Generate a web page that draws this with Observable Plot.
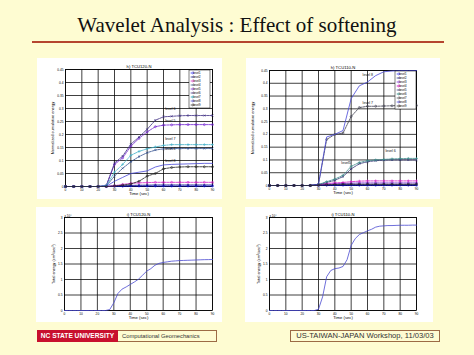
<!DOCTYPE html>
<html><head><meta charset="utf-8">
<script src="https://cdn.jsdelivr.net/npm/d3@7"></script>
<script src="https://cdn.jsdelivr.net/npm/@observablehq/plot@0.6"></script>
<style>
html,body{margin:0;padding:0;background:#FEFCD2;width:474px;height:355px;overflow:hidden;}
#slide{position:relative;width:474px;height:355px;font-family:"Liberation Sans",Arial,sans-serif;}
.title{position:absolute;left:0;width:474px;top:15px;text-align:center;font-family:"Liberation Serif","Times New Roman",serif;font-size:21px;line-height:21px;color:#111;white-space:nowrap;}
.rule{position:absolute;left:32px;width:412px;top:41px;height:2px;background:#B5452F;}
.panel{position:absolute;background:#fff;}
.panel svg{display:block;}
.foot{position:absolute;top:330px;height:12px;box-sizing:border-box;white-space:nowrap;}
</style></head>
<body><div id="slide">
<div class="title">Wavelet Analysis : Effect of softening</div>
<div class="rule"></div>
<div id="p1" class="panel"></div>
<div id="p2" class="panel"></div>
<div id="p3" class="panel"></div>
<div id="p4" class="panel"></div>
<div class="foot" style="left:37px;width:81px;background:#C8102E;color:#fff;font-weight:bold;font-size:6.6px;line-height:12px;text-align:center;">NC STATE UNIVERSITY</div>
<div class="foot" style="left:118px;width:99px;border:1px solid #9C6B45;border-left:none;color:#333;font-size:5.8px;line-height:10px;padding-left:4px;">Computational Geomechanics</div>
<div class="foot" style="left:290px;width:150px;border:1px solid #9C6B45;color:#333;font-size:7.6px;line-height:10px;text-align:center;">US-TAIWAN-JAPAN Workshop, 11/03/03</div>
</div>
<script>
// ---------- data ----------
const time = [0,5,10,15,20,25,30,35,40,45,50,55,60,65,70,75,80,85,90];
const levels = ["level1","level2","level3","level4","level5","level6","level7","level8","level9"];
const xTicks = [0,10,20,30,40,50,60,70,80,90];
const yTicksLevel = [0,0.05,0.1,0.15,0.2,0.25,0.3,0.35,0.4,0.45];
const yTicksEnergy = [0,0.5,1,1.5,2,2.5,3];

// TCU120-N normalized cumulative energy
const tcu120_level1 = [0,0,0,0,0,0,0.001,0.001,0.002,0.002,0.002,0.002,0.002,0.002,0.002,0.002,0.002,0.002,0.002];
const tcu120_level2 = [0,0,0,0,0,0,0.002,0.003,0.004,0.005,0.005,0.006,0.006,0.006,0.006,0.006,0.006,0.006,0.006];
const tcu120_level3 = [0,0,0,0,0,0,0.003,0.008,0.012,0.014,0.015,0.016,0.016,0.016,0.016,0.016,0.016,0.016,0.016];
const tcu120_level4 = [0,0,0,0,0,0.002,0.04,0.07,0.095,0.115,0.13,0.14,0.145,0.146,0.146,0.146,0.146,0.146,0.146];
const tcu120_level5 = [0,0,0,0,0,0.003,0.085,0.11,0.155,0.185,0.21,0.23,0.236,0.237,0.238,0.238,0.238,0.238,0.238];
const tcu120_level6 = [0,0,0,0,0,0.004,0.09,0.117,0.163,0.19,0.22,0.255,0.268,0.27,0.272,0.273,0.273,0.273,0.273];
const tcu120_level7 = [0,0,0,0,0,0.003,0.055,0.085,0.12,0.135,0.145,0.152,0.158,0.161,0.161,0.161,0.161,0.161,0.161];
const tcu120_level8 = [0,0,0,0,0,0.001,0.02,0.035,0.05,0.055,0.06,0.075,0.083,0.085,0.086,0.087,0.088,0.089,0.089];
const tcu120_level9 = [0,0,0,0,0,0,0.002,0.005,0.01,0.02,0.04,0.05,0.068,0.073,0.075,0.076,0.076,0.076,0.076];

// TCU110-N normalized cumulative energy
const tcu110_level1 = [0,0,0,0,0,0,0.001,0.001,0.001,0.001,0.001,0.001,0.001,0.001,0.001,0.001,0.001,0.001,0.001];
const tcu110_level2 = [0,0,0,0,0,0,0.001,0.002,0.002,0.003,0.003,0.003,0.003,0.003,0.003,0.003,0.003,0.003,0.003];
const tcu110_level3 = [0,0,0,0,0,0,0.002,0.005,0.007,0.008,0.009,0.01,0.01,0.01,0.01,0.01,0.01,0.01,0.01];
const tcu110_level4 = [0,0,0,0,0,0,0.003,0.008,0.01,0.012,0.015,0.017,0.018,0.018,0.018,0.018,0.018,0.018,0.018];
const tcu110_level5 = [0,0,0,0,0,0,0.003,0.012,0.02,0.035,0.065,0.085,0.093,0.097,0.099,0.1,0.1,0.1,0.1];
const tcu110_level6 = [0,0,0,0,0,0,0.004,0.015,0.025,0.04,0.075,0.09,0.097,0.1,0.102,0.104,0.105,0.106,0.106];
const tcu110_level7 = [0,0,0,0,0,0,0.005,0.18,0.2,0.205,0.27,0.305,0.31,0.31,0.311,0.312,0.313,0.313,0.313];
const tcu110_level8 = [0,0,0,0,0,0,0.005,0.19,0.2,0.215,0.34,0.39,0.405,0.43,0.445,0.448,0.45,0.45,0.45];
const tcu110_level9 = [0,0,0,0,0,0,0.001,0.003,0.004,0.005,0.005,0.005,0.005,0.005,0.005,0.005,0.005,0.005,0.005];

// total energy (x 10^4)
const timeFine = [0,2.5,5,7.5,10,12.5,15,17.5,20,22.5,25,27.5,30,32.5,35,37.5,40,42.5,45,47.5,50,52.5,55,57.5,60,62.5,65,67.5,70,72.5,75,77.5,80,82.5,85,87.5,90];
const tcu120_total = [0,0,0,0,0,0,0,0,0,0,0,0.03,0.25,0.55,0.69,0.76,0.84,0.92,1.01,1.14,1.27,1.35,1.46,1.52,1.55,1.57,1.59,1.60,1.61,1.615,1.62,1.625,1.63,1.635,1.64,1.642,1.645];
const tcu110_total = [0,0,0,0,0,0,0,0,0,0,0,0,0.04,0.44,1.09,1.29,1.35,1.37,1.42,1.64,2.1,2.32,2.45,2.51,2.57,2.62,2.69,2.72,2.73,2.74,2.74,2.745,2.75,2.75,2.75,2.755,2.755];

const titles = ["h) TCU120-N","h) TCU110-N","i) TCU120-N","i) TCU110-N"];
const yLabelLevel = "Normalized cumulative energy";
const yLabelEnergy = "Total energy (cm\u00b2/sec\u00b3)";
const xLabel = "Time (sec)";

// level annotations
const notes120 = [{t:61,v:0.298,s:"level 6"},{t:61,v:0.252,s:"level 5"},{t:61,v:0.184,s:"level 7"},{t:61,v:0.143,s:"level 4"},{t:61,v:0.099,s:"level 8"}];
const notes110 = [{t:57,v:0.432,s:"level 8"},{t:57,v:0.322,s:"level 7"},{t:71,v:0.135,s:"level 6"},{t:44,v:0.09,s:"level5"}];

// ---------- styles ----------
const style120 = {
  level1:{c:"#1010ff",dash:"1.5,1",sym:"circle"},
  level2:{c:"#101080",dash:"2,1",sym:"times"},
  level3:{c:"#d020c8",dash:"2,1",sym:"circle"},
  level4:{c:"#2c4a8a",dash:"2,1",sym:"times"},
  level5:{c:"#7020d0",dash:"2,1",sym:"circle"},
  level6:{c:"#3a2a80",dash:"2,1",sym:"times"},
  level7:{c:"#40b0c8",dash:"3,1,1,1",sym:"plus"},
  level8:{c:"#4848d8",dash:null,sym:null},
  level9:{c:"#202020",dash:"2,1",sym:"circle"}
};
const style110 = {
  level1:{c:"#1010ff",dash:"1.5,1",sym:"circle"},
  level2:{c:"#101080",dash:"2,1",sym:"times"},
  level3:{c:"#7020d0",dash:"2,1",sym:"circle"},
  level4:{c:"#d020c8",dash:"2,1",sym:"plus"},
  level5:{c:"#2c2c70",dash:"2,1",sym:"times"},
  level6:{c:"#3c8c8c",dash:"2,1",sym:"plus"},
  level7:{c:"#404050",dash:"2,1",sym:"circle"},
  level8:{c:"#4848d8",dash:null,sym:null},
  level9:{c:"#202020",dash:"2,1",sym:"circle"}
};

function tidy(prefixArrays) {
  const rows = [];
  levels.forEach((lv, i) => prefixArrays[i].forEach((v, j) => rows.push({level: lv, t: time[j], v})));
  return rows;
}
const data120 = tidy([tcu120_level1,tcu120_level2,tcu120_level3,tcu120_level4,tcu120_level5,tcu120_level6,tcu120_level7,tcu120_level8,tcu120_level9]);
const data110 = tidy([tcu110_level1,tcu110_level2,tcu110_level3,tcu110_level4,tcu110_level5,tcu110_level6,tcu110_level7,tcu110_level8,tcu110_level9]);

const fmt = d => String(+d.toFixed(2));
const FONT = "Liberation Sans, Arial, sans-serif";

function basePlot(o, marks) {
  return Plot.plot({
    width: o.w, height: o.h,
    marginLeft: o.ml, marginRight: o.mr, marginTop: o.mt, marginBottom: o.mb,
    style: {background: "#fff", fontFamily: FONT, fontSize: "3.4px", color: "#000", overflow: "visible"},
    x: {domain: [0, 90]},
    y: {domain: o.yDomain},
    marks: [
      Plot.gridX(xTicks, {stroke: "#000", strokeOpacity: 1, strokeWidth: 0.75}),
      Plot.gridY(o.yTicks, {stroke: "#000", strokeOpacity: 1, strokeWidth: 0.75}),
      Plot.frame({stroke: "#000", strokeWidth: 0.8}),
      Plot.axisX(xTicks, {tickSize: 0, tickPadding: 2, fontSize: 3.2, label: null, tickFormat: d => d}),
      Plot.axisY(o.yTicks, {tickSize: 0, tickPadding: 2, fontSize: 3.2, label: null, tickFormat: fmt}),
      ...marks,
      Plot.text([o.title], {frameAnchor: "top", dy: -4, fontSize: 4.2}),
      Plot.text([xLabel], {frameAnchor: "bottom", dy: 8, fontSize: 4.2}),
      Plot.text([o.ylabel], {frameAnchor: "left", rotate: -90, dx: o.ylabelDx, textAnchor: "middle", fontSize: 3.9})
    ]
  });
}

function levelMarks(data, st, notes) {
  const marks = [];
  levels.forEach(lv => {
    const s = st[lv];
    const d = data.filter(r => r.level === lv);
    marks.push(Plot.line(d, {x: "t", y: "v", stroke: s.c, strokeWidth: 0.8, strokeDasharray: s.dash || undefined}));
    if (s.sym) marks.push(Plot.dot(d, {x: "t", y: "v", stroke: s.c, symbol: s.sym, r: 1, strokeWidth: 0.6}));
  });
  marks.push(Plot.text(notes, {x: "t", y: "v", text: "s", textAnchor: "start", fontSize: 3.6, fill: "#111"}));
  return marks;
}

function addLegend(svg, o, st) {
  const g = d3.select(svg);
  const bw = 21, rh = 4, bh = levels.length * rh + 2;
  const x0 = o.w - o.mr - bw - o.legInset, y0 = o.mt + 1;
  const lg = g.append("g");
  lg.append("rect").attr("x", x0).attr("y", y0).attr("width", bw).attr("height", bh)
    .attr("fill", "#fff").attr("stroke", "#000").attr("stroke-width", 0.5);
  levels.forEach((lv, i) => {
    const s = st[lv];
    const cy = y0 + 3 + i * rh;
    lg.append("line").attr("x1", x0 + 1.5).attr("x2", x0 + 6).attr("y1", cy).attr("y2", cy)
      .attr("stroke", s.c).attr("stroke-width", 0.5).attr("stroke-dasharray", s.dash || null);
    lg.append("path").attr("d", d3.symbol(s.sym === "times" ? d3.symbolTimes : s.sym === "plus" ? d3.symbolCross : d3.symbolCircle, 2.5)())
      .attr("transform", `translate(${x0 + 3.7},${cy})`).attr("fill", "none").attr("stroke", s.c).attr("stroke-width", 0.5);
    lg.append("text").attr("x", x0 + 8).attr("y", cy).attr("dy", "0.35em")
      .attr("font-size", 2.8).attr("fill", "#000").text(lv);
  });
}

function place(id, o, svg) {
  const el = document.getElementById(id);
  el.style.left = o.left + "px"; el.style.top = o.top + "px";
  el.style.width = o.w + "px"; el.style.height = o.h + "px";
  el.appendChild(svg);
}

const o1 = {left: 37, top: 58, w: 185, h: 141, ml: 28, mr: 10, mt: 11, mb: 13, yDomain: [0, 0.45], yTicks: yTicksLevel, title: titles[0], ylabel: yLabelLevel, ylabelDx: -13, legInset: 2};
const o2 = {left: 246, top: 58, w: 194, h: 141, ml: 23, mr: 24, mt: 12, mb: 14, yDomain: [0, 0.45], yTicks: yTicksLevel, title: titles[1], ylabel: yLabelLevel, ylabelDx: -17, legInset: 0};
const o3 = {left: 36, top: 207, w: 186, h: 115, ml: 28, mr: 10, mt: 10, mb: 12, yDomain: [0, 3], yTicks: yTicksEnergy, title: titles[2], ylabel: yLabelEnergy, ylabelDx: -11};
const o4 = {left: 245, top: 207, w: 188, h: 115, ml: 24, mr: 17, mt: 10, mb: 12, yDomain: [0, 3], yTicks: yTicksEnergy, title: titles[3], ylabel: yLabelEnergy, ylabelDx: -11};

const s1 = basePlot(o1, levelMarks(data120, style120, notes120));
addLegend(s1, o1, style120); place("p1", o1, s1);
const s2 = basePlot(o2, levelMarks(data110, style110, notes110));
addLegend(s2, o2, style110); place("p2", o2, s2);

function energyMarks(vals) {
  const d = timeFine.map((t, i) => ({t, v: vals[i]}));
  return [
    Plot.line(d, {x: "t", y: "v", stroke: "#4a4ad0", strokeWidth: 0.8}),
    Plot.text(["x 10\u2074"], {frameAnchor: "top-left", dy: -3, dx: 0, fontSize: 3, textAnchor: "start"})
  ];
}
const s3 = basePlot(o3, energyMarks(tcu120_total)); place("p3", o3, s3);
const s4 = basePlot(o4, energyMarks(tcu110_total)); place("p4", o4, s4);
</script>
</body></html>
